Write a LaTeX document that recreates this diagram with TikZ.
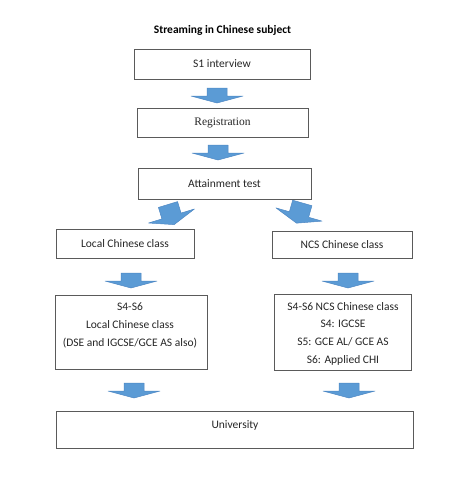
\documentclass[tikz,border=0pt]{standalone}
\usepackage{fontspec}
\setmainfont{Carlito}
\newfontfamily\serifface{Liberation Serif}
\definecolor{arrowblue}{HTML}{5B9BD5}
\definecolor{arrowedge}{HTML}{4F88C4}
\definecolor{boxedge}{HTML}{5A5A5A}
\definecolor{txt}{HTML}{262626}
\tikzset{
  box/.style={draw=boxedge, line width=0.9pt, inner sep=0pt, text=txt,
    font=\fontsize{11.5}{17.7}\selectfont},
  lbl/.style={inner sep=0pt, text=txt, align=center,
    font=\fontsize{11.5}{17.7}\selectfont},
  arrowstyle/.style={fill=arrowblue, draw=arrowedge, line width=0.5pt, line join=round},
  downarrow/.pic={\draw[arrowstyle] (-10,-8) -- (10,-8) -- (10,0) -- (26,0) -- (0,7) -- (-26,0) -- (-10,0) -- cycle;},
  diagarrow/.pic={\draw[arrowstyle] (-10,-12) -- (10,-12) -- (10,0) -- (24,0) -- (0,9) -- (-24,0) -- (-10,0) -- cycle;}
}
\begin{document}
\begin{tikzpicture}[x=1pt, y=-1pt]
\useasboundingbox[fill=white] (0,0) rectangle (474,482);
\node[inner sep=0pt, font=\bfseries\fontsize{11.5}{14}\selectfont] (title) at (222.5,30) {Streaming in Chinese subject};
\node[box, minimum width=176pt, minimum height=30pt] (s1) at (222,64) {S1 interview};
\node[box, minimum width=171pt, minimum height=29pt, font=\serifface\fontsize{11.5}{14}\selectfont] (reg) at (222.5,122.5) {Registration};
\node[box, minimum width=173pt, minimum height=31pt] (att) at (224.5,183.5) {Attainment test};
\node[box, minimum width=138pt, minimum height=29pt] (local) at (125,243.5) {Local Chinese class};
\node[box, minimum width=140pt, minimum height=27pt] (ncs) at (342,244.5) {NCS Chinese class};
\node[box, minimum width=152pt, minimum height=74pt] (s4l) at (131,332) {};
\node[lbl] (s4ltext) at (130,325.5) {S4-S6\\Local Chinese class\\(DSE and IGCSE/GCE AS also)};
\node[box, minimum width=137pt, minimum height=76pt] (s4r) at (342.5,332) {};
\node[lbl] (s4rtext) at (343,333.5) {S4-S6 NCS Chinese class\\S4: IGCSE\\S5: GCE AL/ GCE AS\\S6: Applied CHI};
\node[box, minimum width=357pt, minimum height=37pt] (univ) at (234.5,429.5) {};
\node[lbl] (univtext) at (235,425) {University};
% block arrows
\pic at (217,96) {downarrow};
\pic at (218,153) {downarrow};
\pic[rotate=17] at (171.5,216) {diagarrow};
\pic[rotate=-16] at (299,214.5) {diagarrow};
\pic at (131,281) {downarrow};
\pic at (348,281) {downarrow};
\pic at (134,391) {downarrow};
\pic at (349,391) {downarrow};
\end{tikzpicture}
\end{document}
